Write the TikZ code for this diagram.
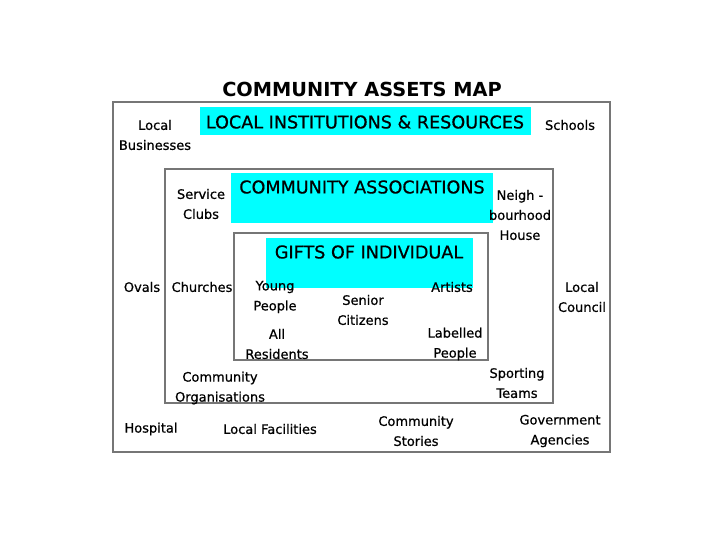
\documentclass[tikz,border=0pt]{standalone}
\usepackage{fontspec}
\setmainfont{DejaVu Sans}
\newfontfamily\assetfont[FakeBold=0.7]{DejaVu Sans}
\definecolor{zonegray}{RGB}{118,118,118}
\definecolor{bandcyan}{RGB}{0,255,255}
\tikzset{
  >=latex,
  asset/.style={align=center,font=\assetfont\fontsize{9.75}{15}\selectfont},
  heading/.style={font=\assetfont\fontsize{13.2}{16}\selectfont},
  zone/.style={draw=zonegray,line width=1.5pt},
  band/.style={fill=bandcyan}
}

\begin{document}
\begin{tikzpicture}[x=0.75pt,y=-0.75pt]
  \useasboundingbox (0,0) rectangle (720,540);
  % cyan bands behind the headings
  \fill[band] (200,107) rectangle (531,135);
  \fill[band] (231,173) rectangle (493,223);
  \fill[band] (266,238) rectangle (473,288);
  % the three rings
  \draw[zone] (113,102) rectangle (610,452);
  \draw[zone] (165,169) rectangle (553,403);
  \draw[zone] (234,233) rectangle (488,360);
  \node[font=\bfseries\fontsize{14.5}{17}\selectfont] (title) at (362,89) {COMMUNITY ASSETS MAP};
  \node[heading] (institutions) at (365,122) {LOCAL INSTITUTIONS \& RESOURCES};
  \node[heading] (associations) at (362,187) {COMMUNITY ASSOCIATIONS};
  \node[heading] (gifts) at (369,252) {GIFTS OF INDIVIDUAL};
  % outer ring
  \node[asset] (business) at (155,135) {Local\\Businesses};
  \node[asset] (schools) at (570,125) {Schools};
  \node[asset] (ovals) at (142,287) {Ovals};
  \node[asset] (council) at (582,297) {Local\\Council};
  \node[asset] (hospital) at (151,429) {Hospital};
  \node[asset] (facilities) at (270,429) {Local Facilities};
  \node[asset] (stories) at (416,431) {Community\\Stories};
  \node[asset] (government) at (560,431) {Government\\Agencies};
  % middle ring
  \node[asset] (service) at (201,204) {Service\\Clubs};
  \node[asset] (neighbour) at (520,215) {Neigh -\\bourhood\\House};
  \node[asset] (churches) at (202,287) {Churches};
  \node[asset] (organisations) at (220,388) {Community\\Organisations};
  \node[asset] (sporting) at (517,383) {Sporting\\Teams};
  % inner ring
  \node[asset] (young) at (275,297) {Young\\People};
  \node[asset] (artists) at (452,287) {Artists};
  \node[asset] (senior) at (363,310) {Senior\\Citizens};
  \node[asset] (residents) at (277,344) {All\\Residents};
  \node[asset] (labelled) at (455,344) {Labelled\\People};
\end{tikzpicture}
\end{document}
